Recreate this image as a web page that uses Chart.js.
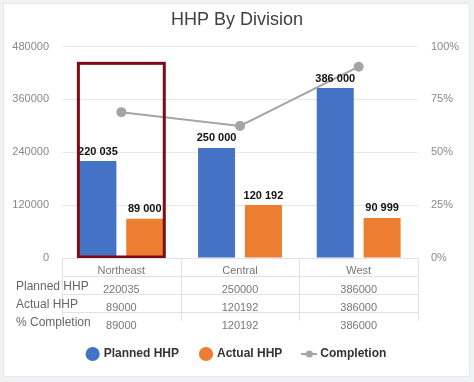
<!DOCTYPE html>
<html>
<head>
<meta charset="utf-8">
<script src="https://cdn.jsdelivr.net/npm/chart.js@4.4.1/dist/chart.umd.min.js"></script>
<style>
  html, body { margin: 0; padding: 0; background: #f0f2f4; }
  #wrap { position: relative; width: 474px; height: 382px; }
  #card { position: absolute; left: 3px; top: 3px; width: 465px; height: 372px;
          background: #fff; border: 1px solid #e6e9ec; border-radius: 2px; }
  #chartDivision { position: absolute; left: 0; top: 0; }
</style>
</head>
<body>
<div id="wrap">
  <div id="card"></div>
  <canvas id="chartDivision" width="474" height="382"></canvas>
</div>
<script>
const divisions = ["Northeast", "Central", "West"];
const plannedHHP = [220035, 250000, 386000];
const actualHHP = [89000, 120192, 90999];
const completionPct = [69, 62.5, 90.5];

const leftTicks = [0, 120000, 240000, 360000, 480000];
const rightTicks = [0, 25, 50, 75, 100];

// table under the x axis, as shown in the picture
const tableLabels = ["Planned HHP", "Actual HHP", "% Completion"];
const tableValues = [
  ["220035", "250000", "386000"],
  ["89000", "120192", "386000"],
  ["89000", "120192", "386000"],
];

const highlightIndex = 0;
const highlightTop = 442000;

const FONT = "'Liberation Sans', Arial, sans-serif";

function spaced(n) {
  return String(n).replace(/\B(?=(\d{3})+(?!\d))/g, " ");
}

// legend icon for the line series: a short line with a dot
const lineIcon = document.createElement("canvas");
lineIcon.width = 16;
lineIcon.height = 10;
(function () {
  const c = lineIcon.getContext("2d");
  c.strokeStyle = "#a5a5a5";
  c.lineWidth = 2;
  c.beginPath();
  c.moveTo(0, 5);
  c.lineTo(16, 5);
  c.stroke();
  c.fillStyle = "#a5a5a5";
  c.beginPath();
  c.arc(8, 5, 3.5, 0, Math.PI * 2);
  c.fill();
})();

const barLabels = {
  id: "barLabels",
  afterDatasetsDraw(chart) {
    const ctx = chart.ctx;
    ctx.save();
    ctx.font = "bold 11px " + FONT;
    ctx.fillStyle = "#111";
    ctx.textAlign = "center";
    ctx.textBaseline = "bottom";
    [0, 1].forEach((di) => {
      const meta = chart.getDatasetMeta(di);
      meta.data.forEach((bar, i) => {
        ctx.fillText(spaced(chart.data.datasets[di].data[i]), bar.x, bar.y - 4);
      });
    });
    ctx.restore();
  },
};

const highlight = {
  id: "highlight",
  afterDatasetsDraw(chart) {
    const a = chart.getDatasetMeta(0).data[highlightIndex];
    const b = chart.getDatasetMeta(1).data[highlightIndex];
    const y = chart.scales.y;
    const ctx = chart.ctx;
    ctx.save();
    ctx.strokeStyle = "#7a0c16";
    ctx.lineWidth = 3;
    const left = a.x - a.width / 2 - 1;
    const right = b.x + b.width / 2 + 1;
    const top = y.getPixelForValue(highlightTop);
    const bottom = y.getPixelForValue(0) - 1;
    ctx.strokeRect(left, top, right - left, bottom - top);
    ctx.restore();
  },
};

const dataTable = {
  id: "dataTable",
  afterDraw(chart) {
    const ctx = chart.ctx;
    const area = chart.chartArea;
    const x = chart.scales.x;
    const step = (area.right - area.left) / divisions.length;
    const base = area.bottom;
    ctx.save();
    ctx.strokeStyle = "#dfe3e8";
    ctx.lineWidth = 1;
    for (let i = 0; i <= divisions.length; i++) {
      const px = Math.round(area.left + i * step) + 0.5;
      ctx.beginPath();
      ctx.moveTo(px, base);
      ctx.lineTo(px, base + 63);
      ctx.stroke();
    }
    [0, 18, 36, 54].forEach((dy) => {
      ctx.beginPath();
      ctx.moveTo(area.left, Math.round(base + dy) + 0.5);
      ctx.lineTo(area.right, Math.round(base + dy) + 0.5);
      ctx.stroke();
    });
    ctx.textBaseline = "middle";
    ctx.textAlign = "center";
    ctx.font = "11px " + FONT;
    ctx.fillStyle = "#777";
    divisions.forEach((d, i) => ctx.fillText(d, x.getPixelForValue(i), base + 13));
    tableValues.forEach((row, r) => {
      row.forEach((v, i) => {
        ctx.fillText(v, x.getPixelForValue(i), base + 32 + r * 18);
      });
    });
    ctx.font = "12px " + FONT;
    ctx.fillStyle = "#666";
    ctx.textAlign = "left";
    tableLabels.forEach((t, r) => ctx.fillText(t, 16, base + 29 + r * 18));
    ctx.restore();
  },
};

new Chart(document.getElementById("chartDivision"), {
  type: "bar",
  data: {
    labels: divisions,
    datasets: [
      {
        label: "Planned HHP",
        data: plannedHHP,
        backgroundColor: "#4472c4",
        yAxisID: "y",
        order: 2,
      },
      {
        label: "Actual HHP",
        data: actualHHP,
        backgroundColor: "#ed7d31",
        yAxisID: "y",
        order: 2,
      },
      {
        type: "line",
        label: "Completion",
        data: completionPct,
        borderColor: "#a5a5a5",
        backgroundColor: "#a5a5a5",
        borderWidth: 2,
        pointRadius: 4,
        pointHoverRadius: 4,
        yAxisID: "y1",
        order: 1,
      },
    ],
  },
  options: {
    responsive: false,
    animation: false,
    events: [],
    layout: { padding: { left: 0, right: 0, top: 0, bottom: 12 } },
    datasets: {
      bar: { categoryPercentage: 0.79, barPercentage: 0.79 },
    },
    scales: {
      x: {
        grid: { display: false },
        border: { display: false },
        ticks: { display: false },
        afterFit(s) { s.height = 68; },
      },
      y: {
        position: "left",
        min: 0,
        max: 480000,
        afterBuildTicks(s) { s.ticks = leftTicks.map((v) => ({ value: v })); },
        ticks: {
          color: "#888",
          font: { family: FONT, size: 11 },
          padding: 13,
          callback: (v) => String(v),
        },
        grid: { color: "#e6e9ec", drawTicks: false },
        border: { display: false },
        afterFit(s) { s.width = 62; },
      },
      y1: {
        position: "right",
        min: 0,
        max: 100,
        afterBuildTicks(s) { s.ticks = rightTicks.map((v) => ({ value: v })); },
        ticks: {
          color: "#888",
          font: { family: FONT, size: 11 },
          padding: 13,
          callback: (v) => v + "%",
        },
        grid: { drawOnChartArea: false, drawTicks: false },
        border: { display: false },
        afterFit(s) { s.width = 56; },
      },
    },
    plugins: {
      title: {
        display: true,
        text: "HHP By Division",
        color: "#404040",
        font: { family: FONT, size: 18, weight: "normal" },
        padding: { top: 9, bottom: 16 },
      },
      legend: {
        position: "bottom",
        labels: {
          usePointStyle: true,
          boxWidth: 10,
          boxHeight: 10,
          padding: 22,
          color: "#333",
          font: { family: FONT, size: 12, weight: "bold" },
          sort: (a, b) => a.datasetIndex - b.datasetIndex,
          generateLabels(chart) {
            const items = Chart.defaults.plugins.legend.labels.generateLabels(chart);
            items.forEach((it) => {
              it.pointStyle = it.datasetIndex === 2 ? lineIcon : "circle";
            });
            return items;
          },
        },
      },
      tooltip: { enabled: false },
    },
  },
  plugins: [barLabels, highlight, dataTable],
});
</script>
</body>
</html>
